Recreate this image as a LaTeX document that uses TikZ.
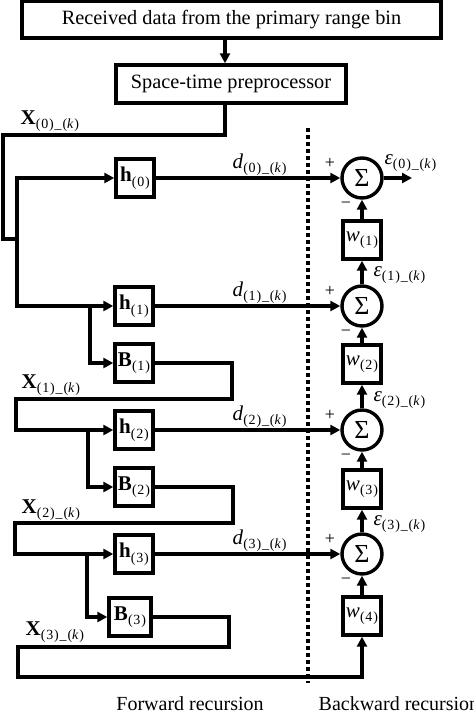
\documentclass[tikz,border=0pt]{standalone}
\usepackage{fontspec}
\setmainfont{Liberation Serif}
\usetikzlibrary{arrows.meta,calc}
\newcommand\sbx[1]{\raisebox{-4.5pt}{\fontsize{14}{14}\selectfont\addfontfeature{LetterSpace=6}#1}}
\newcommand\kk[1]{(#1)\_(\textit{k})}
\begin{document}
\begin{tikzpicture}[x=1pt,y=-1pt,line width=3.4pt,
  bigbox/.style={draw,inner sep=0pt,font=\fontsize{20.3}{20.3}\selectfont},
  blk/.style={draw,inner sep=0pt,minimum width=38pt,minimum height=38pt,font=\fontsize{21}{21}\selectfont},
  sumc/.style={draw,circle,inner sep=0pt,minimum size=40pt,font=\fontsize{26}{26}\selectfont},
  arr/.style={-{Triangle[length=10pt,width=10pt]}},
  lab/.style={inner sep=0pt,anchor=base west,font=\fontsize{21}{21}\selectfont},
  sgn/.style={inner sep=0pt,font=\fontsize{18}{18}\selectfont},
  captxt/.style={inner sep=0pt,font=\fontsize{20}{20}\selectfont}]
\useasboundingbox (0,0) rectangle (474,716);

% top boxes
\node[bigbox,minimum width=419pt,minimum height=37pt] (top) at (231.5,19.5) {Received data from the primary range bin};
\node[bigbox,minimum width=230pt,minimum height=38pt] (pre) at (231,84) {Space-time preprocessor};
\coordinate (c) at (225,0);

% forward blocks
\node[blk] (h0) at (135,178) {\textbf{h}\sbx{(0)}};
\node[blk] (h1) at (134,306) {\textbf{h}\sbx{(1)}};
\node[blk] (B1) at (134,363) {\textbf{B}\sbx{(1)}};
\node[blk] (h2) at (134,430) {\textbf{h}\sbx{(2)}};
\node[blk] (B2) at (134,487) {\textbf{B}\sbx{(2)}};
\node[blk] (h3) at (134,554) {\textbf{h}\sbx{(3)}};
\node[blk,minimum width=42pt] (B3) at (130,617) {\textbf{B}\sbx{(3)}};

% backward blocks
\node[sumc] (s0) at (362,178) {Σ};
\node[sumc] (s1) at (362,306) {Σ};
\node[sumc] (s2) at (362,430) {Σ};
\node[sumc] (s3) at (362,554) {Σ};
\node[blk] (w1) at (362,240) {\textit{w}\sbx{(1)}};
\node[blk] (w2) at (362,364) {\textit{w}\sbx{(2)}};
\node[blk] (w3) at (362,489) {\textit{w}\sbx{(3)}};
\node[blk] (w4) at (362,616) {\textit{w}\sbx{(4)}};

% input path
\draw[arr] (top.south -| c) -- (pre.north -| c);
\draw (pre.south -| c) -- (225,135) -- (3,135) -- (3,239) -- (17,239);
\draw[arr] (17,239) |- (h0.west);
\draw[arr] (17,239) |- (h1.west);

% branches to B
\draw[arr] (90,306) |- (B1.west);
\draw[arr] (88,430) |- (B2.west);
\draw[arr] (87,554) |- (B3.west);

% feedback loops
\draw[arr] (B1.east) -- (232,363) -- (232,399) -- (16,399) |- (h2.west);
\draw[arr] (B2.east) -- (233,487) -- (233,523) -- (15,523) |- (h3.west);
\draw[arr] (B3.east) -- (229,617) -- (229,647) -- (18,647) -- (18,677) -| (w4.south);

% d lines
\draw[arr] (h0.east) -- (s0.west);
\draw[arr] (h1.east) -- (s1.west);
\draw[arr] (h2.east) -- (s2.west);
\draw[arr] (h3.east) -- (s3.west);

% backward arrows
\coordinate (out0) at (412,178);
\draw[arr] (s0.east) -- (out0);
\draw[arr] (w1) -- (s0);
\draw[arr] (s1) -- (w1);
\draw[arr] (w2) -- (s1);
\draw[arr] (s2) -- (w2);
\draw[arr] (w3) -- (s2);
\draw[arr] (s3) -- (w3);
\draw[arr] (w4) -- (s3);

% dotted divider
\coordinate (dt) at (308,128);
\coordinate (db) at (308,683);
\draw[dash pattern=on 4pt off 3pt] (dt) -- (db);

% labels
\node[lab] (lx0) at (19,124) {\textbf{X}\sbx{\kk{0}}};
\node[lab] (lx1) at (20,388) {\textbf{X}\sbx{\kk{1}}};
\node[lab] (lx2) at (20,513) {\textbf{X}\sbx{\kk{2}}};
\node[lab] (lx3) at (24,635) {\textbf{X}\sbx{\kk{3}}};

\node[lab] (ld0) at (231,168) {\textit{d}\sbx{\kk{0}}};
\node[lab] (ld1) at (231,296) {\textit{d}\sbx{\kk{1}}};
\node[lab] (ld2) at (231,420) {\textit{d}\sbx{\kk{2}}};
\node[lab] (ld3) at (231,544) {\textit{d}\sbx{\kk{3}}};

\node[lab] (le0) at (383,164) {\textit{ε}\sbx{\kk{0}}};
\node[lab] (le1) at (372,276) {\textit{ε}\sbx{\kk{1}}};
\node[lab] (le2) at (372,401) {\textit{ε}\sbx{\kk{2}}};
\node[lab] (le3) at (372,525) {\textit{ε}\sbx{\kk{3}}};

\foreach \s in {s0,s1,s2,s3}{
  \node[sgn] at ([shift={(-32,-15)}]\s) {+};
  \node[sgn] at ([shift={(-16,27)}]\s) {−};
}

\node[captxt] (fw) at (190,704) {Forward recursion};
\node[captxt,anchor=west] (bw) at (317,704) {Backward recursion};
\end{tikzpicture}
\end{document}
